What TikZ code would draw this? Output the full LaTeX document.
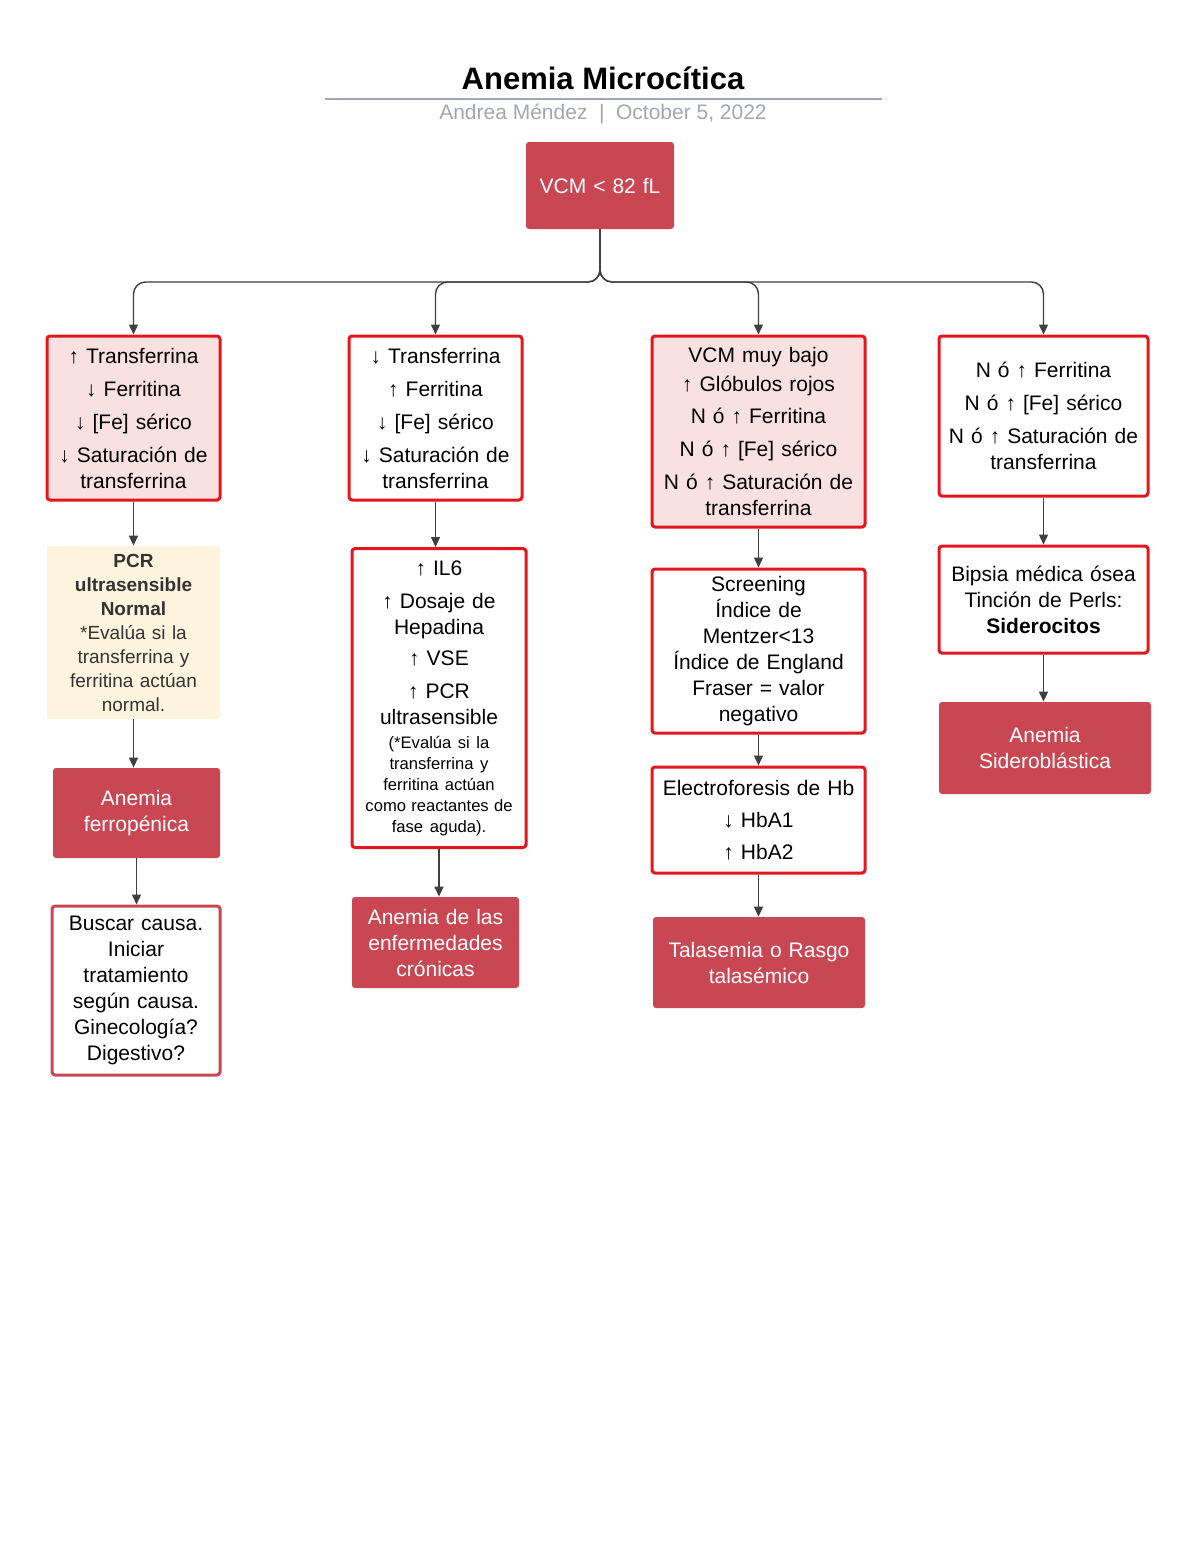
\documentclass[tikz,border=0pt]{standalone}
\usepackage{fontspec}
\setmainfont{Liberation Sans}
\usetikzlibrary{arrows.meta}
\definecolor{fillred}{HTML}{C84753}
\definecolor{edgered}{HTML}{E3161D}
\definecolor{pinkfill}{HTML}{F9E1E2}
\definecolor{cream}{HTML}{FEF3DC}
\definecolor{linegray}{HTML}{3F3F3F}
\definecolor{subgray}{HTML}{A2A7AF}
\definecolor{darktext}{HTML}{333333}
\newcommand{\smtxt}{\fontsize{8.3}{10.5}\selectfont\spaceskip=0pt\relax}
\begin{document}
\begin{tikzpicture}[x=0.5pt,y=-0.5pt,
  base/.style={rectangle, rounded corners=1.5pt, align=center, inner sep=0pt,
    font=\fontsize{10.5}{13}\selectfont},
  redbox/.style={base, draw=edgered, line width=1.5pt},
  fillbox/.style={base, fill=fillred, text=white},
  conn/.style={draw=linegray, line width=0.7pt, -{Triangle[length=5pt,width=4.5pt]}},
]
\useasboundingbox[fill=white] (0,0) rectangle (1200,1553);

% header
\node[anchor=base] (title) at (603,89) {\fontsize{15.5}{18}\selectfont\bfseries Anemia Microcítica};
\coordinate (rl) at (325,99);
\coordinate (rr) at (882,99);
\draw[subgray, line width=1pt] (rl) -- (rr);
\node[anchor=base, text=subgray] (subtitle) at (603,119) {\fontsize{10.5}{13}\selectfont Andrea Méndez\hspace{0.55em}|\hspace{0.55em}October 5, 2022};

% root
\node[fillbox, minimum width=74pt, minimum height=43.5pt, text width=70pt] (vcm) at (600,185.5) {VCM < 82 fL};

% column 1
\node[redbox, fill=pinkfill, minimum width=86.5pt, minimum height=82pt, text width=84pt] (a1) at (133.5,418)
 {↑ Transferrina\\[3.5pt] ↓ Ferritina\\[3.5pt] ↓ [Fe] sérico\\[3.5pt] ↓ Saturación de\\ transferrina};
\node[base, fill=cream, text=darktext, minimum width=86.5pt, minimum height=86.5pt, text width=84pt,
  font=\fontsize{9.5}{12}\selectfont] (a2) at (133.5,632.5)
 {\textbf{PCR}\\ \textbf{ultrasensible}\\ \textbf{Normal}\\ {*}Evalúa si la\\ transferrina y\\ ferritina actúan\\ normal.};
\node[fillbox, minimum width=83.5pt, minimum height=45pt, text width=80pt] (a3) at (136.5,813)
 {Anemia\\ ferropénica};
\node[base, draw=fillred, line width=1.5pt, minimum width=84pt, minimum height=84.5pt, text width=82pt] (a4) at (136,990.5)
 {Buscar causa.\\ Iniciar\\ tratamiento\\ según causa.\\ Ginecología?\\ Digestivo?};

% column 2
\node[redbox, minimum width=86.5pt, minimum height=82pt, text width=84pt] (b1) at (435.5,418)
 {↓ Transferrina\\[3.5pt] ↑ Ferritina\\[3.5pt] ↓ [Fe] sérico\\[3.5pt] ↓ Saturación de\\ transferrina};
\node[redbox, minimum width=87pt, minimum height=149.5pt, text width=85pt] (b2) at (439,698)
 {↑ IL6\\[3.5pt] ↑ Dosaje de\\ Hepadina\\[2.5pt] ↑ VSE\\[3.5pt] ↑ PCR\\ ultrasensible\\[-1pt]
  {\smtxt (*Evalúa si la}\\[-2.5pt] {\smtxt transferrina y}\\[-2.5pt] {\smtxt ferritina actúan}\\[-2.5pt]
  {\smtxt como reactantes de}\\[-2.5pt] {\smtxt fase aguda).}};
\node[fillbox, minimum width=83.5pt, minimum height=45.5pt, text width=80pt] (b3) at (435.5,942.5)
 {Anemia de las\\ enfermedades\\ crónicas};

% column 3
\node[redbox, fill=pinkfill, minimum width=106.5pt, minimum height=95.5pt, text width=104pt] (c1) at (758.5,431.5)
 {VCM muy bajo\\[1.5pt] ↑ Glóbulos rojos\\[3pt] N ó ↑ Ferritina\\[3.5pt] N ó ↑ [Fe] sérico\\[3.5pt] N ó ↑ Saturación de\\ transferrina};
\node[redbox, minimum width=106.5pt, minimum height=82pt, text width=104pt] (c2) at (758.5,651)
 {Screening\\ Índice de\\ Mentzer<13\\ Índice de England\\ Fraser = valor\\ negativo};
\node[redbox, minimum width=106.5pt, minimum height=53pt, text width=104pt] (c3) at (758.5,820)
 {Electroforesis de Hb\\[3pt] ↓ HbA1\\[3pt] ↑ HbA2};
\node[fillbox, minimum width=106pt, minimum height=45.5pt, text width=102pt] (c4) at (759,962.5)
 {Talasemia o Rasgo\\ talasémico};

% column 4
\node[redbox, minimum width=104.5pt, minimum height=80pt, text width=102pt] (d1) at (1043.5,416)
 {N ó ↑ Ferritina\\[3.5pt] N ó ↑ [Fe] sérico\\[3.5pt] N ó ↑ Saturación de\\ transferrina};
\node[redbox, minimum width=104.5pt, minimum height=53.5pt, text width=102pt] (d2) at (1043.5,599.5)
 {Bipsia médica ósea\\ Tinción de Perls:\\ \textbf{Siderocitos}};
\node[fillbox, minimum width=106pt, minimum height=46pt, text width=102pt] (d3) at (1045,748)
 {Anemia\\ Sideroblástica};

% connectors from root
\coordinate (hub) at (600,282);
\draw[conn, rounded corners=6pt] (vcm.south) -- (hub) -| (a1.north);
\draw[conn, rounded corners=6pt] (vcm.south) -- (hub) -| (b1.north);
\draw[conn, rounded corners=6pt] (vcm.south) -- (hub) -| (c1.north);
\draw[conn, rounded corners=6pt] (vcm.south) -- (hub) -| (d1.north);

% vertical connectors
\draw[conn] (a1.south) -- (a1.south |- a2.north);
\draw[conn] (a2.south) -- (a2.south |- a3.north);
\draw[conn] (a3.south) -- (a3.south |- a4.north);
\draw[conn] (b1.south) -- (b1.south |- b2.north);
\draw[conn] (b2.south) -- (b2.south |- b3.north);
\draw[conn] (c1.south) -- (c1.south |- c2.north);
\draw[conn] (c2.south) -- (c2.south |- c3.north);
\draw[conn] (c3.south) -- (c3.south |- c4.north);
\draw[conn] (d1.south) -- (d1.south |- d2.north);
\draw[conn] (d2.south) -- (d2.south |- d3.north);
\end{tikzpicture}
\end{document}
